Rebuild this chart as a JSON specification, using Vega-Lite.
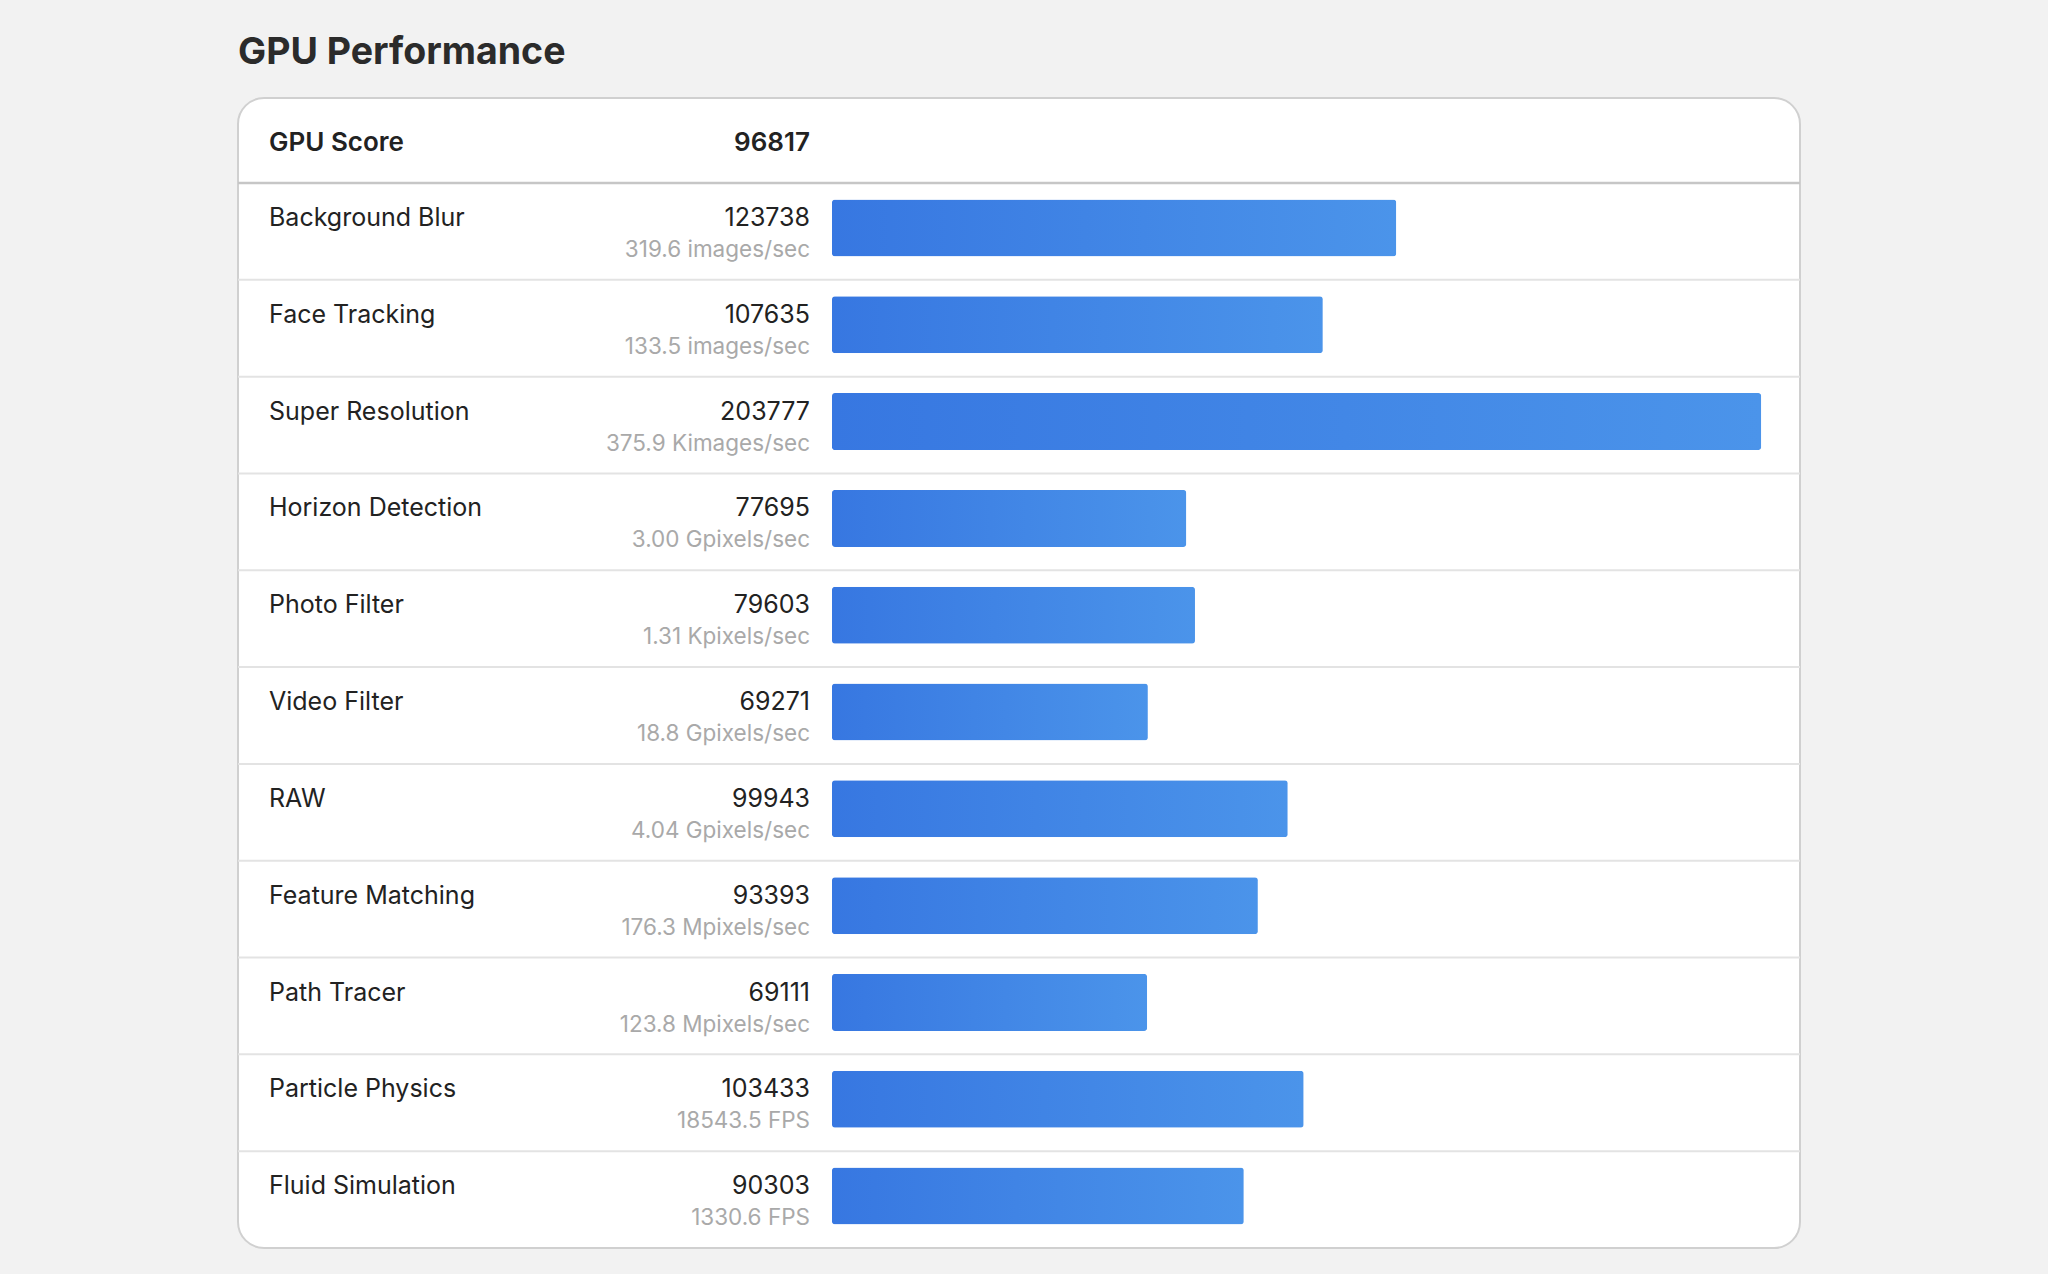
{
  "$schema": "https://vega.github.io/schema/vega-lite/v6.json",
  "width": 1562,
  "height": 1150,
  "autosize": {"type": "none"},
  "padding": {"left": 238, "top": 98, "right": 248, "bottom": 26},
  "background": "#f2f2f2",
  "config": {
    "view": {"fill": "white", "stroke": "#d0d0d0", "strokeWidth": 2, "cornerRadius": 26},
    "text": {"font": "Inter", "baseline": "alphabetic"}
  },
  "title": {
    "text": "GPU Performance",
    "anchor": "start",
    "frame": "group",
    "font": "Inter",
    "fontSize": 37.5,
    "fontWeight": "bold",
    "color": "#2b2b2b",
    "baseline": "alphabetic",
    "offset": 35,
    "dy": 38
  },
  "datasets": {
    "header": [{"name": "GPU Score", "score": 96817}],
    "rows": [
      {"rank": 1, "name": "Background Blur", "score": 123738, "rate": "319.6 images/sec"},
      {"rank": 2, "name": "Face Tracking", "score": 107635, "rate": "133.5 images/sec"},
      {"rank": 3, "name": "Super Resolution", "score": 203777, "rate": "375.9 Kimages/sec"},
      {"rank": 4, "name": "Horizon Detection", "score": 77695, "rate": "3.00 Gpixels/sec"},
      {"rank": 5, "name": "Photo Filter", "score": 79603, "rate": "1.31 Kpixels/sec"},
      {"rank": 6, "name": "Video Filter", "score": 69271, "rate": "18.8 Gpixels/sec"},
      {"rank": 7, "name": "RAW", "score": 99943, "rate": "4.04 Gpixels/sec"},
      {"rank": 8, "name": "Feature Matching", "score": 93393, "rate": "176.3 Mpixels/sec"},
      {"rank": 9, "name": "Path Tracer", "score": 69111, "rate": "123.8 Mpixels/sec"},
      {"rank": 10, "name": "Particle Physics", "score": 103433, "rate": "18543.5 FPS"},
      {"rank": 11, "name": "Fluid Simulation", "score": 90303, "rate": "1330.6 FPS"}
    ]
  },
  "encoding": {
    "y": {
      "field": "name",
      "type": "nominal",
      "bandPosition": 0,
      "scale": {
        "domain": ["GPU Score", "Background Blur", "Face Tracking", "Super Resolution", "Horizon Detection", "Photo Filter", "Video Filter", "RAW", "Feature Matching", "Path Tracer", "Particle Physics", "Fluid Simulation"],
        "range": [-11.8, 1150],
        "paddingInner": 0,
        "paddingOuter": 0
      },
      "axis": null
    }
  },
  "layer": [
    {
      "data": {"name": "header"},
      "mark": {"type": "text", "align": "left", "dx": -563, "dy": 65, "fontSize": 26, "fontWeight": 600, "color": "#222"},
      "encoding": {
        "x": {"datum": 0, "type": "quantitative", "scale": {"domain": [-130263, 212281], "nice": false, "zero": false}, "axis": null},
        "text": {"field": "name"}
      }
    },
    {
      "data": {"name": "header"},
      "mark": {"type": "text", "align": "right", "dx": -22, "dy": 65, "fontSize": 26, "fontWeight": 600, "color": "#222"},
      "encoding": {
        "x": {"datum": 0, "type": "quantitative"},
        "text": {"field": "score"}
      }
    },
    {
      "data": {"name": "rows"},
      "mark": {"type": "rule"},
      "encoding": {
        "color": {"condition": {"test": "datum.rank == 1", "value": "#c6c6c6"}, "value": "#e3e3e3"},
        "strokeWidth": {"condition": {"test": "datum.rank == 1", "value": 2.5}, "value": 2}
      }
    },
    {
      "data": {"name": "rows"},
      "mark": {
        "type": "bar",
        "height": 57,
        "yOffset": -3.5,
        "cornerRadius": 3,
        "color": {
          "gradient": "linear",
          "x1": 0, "y1": 0, "x2": 1, "y2": 0,
          "stops": [
            {"offset": 0, "color": "#3777e1"},
            {"offset": 1, "color": "#4b94ea"}
          ]
        }
      },
      "encoding": {
        "x": {"field": "score", "type": "quantitative"},
        "y": {"field": "name", "type": "nominal"}
      }
    },
    {
      "data": {"name": "rows"},
      "mark": {"type": "text", "align": "left", "dx": -563, "dy": 43, "fontSize": 25, "color": "#222"},
      "encoding": {
        "x": {"datum": 0, "type": "quantitative"},
        "text": {"field": "name"}
      }
    },
    {
      "data": {"name": "rows"},
      "mark": {"type": "text", "align": "right", "dx": -22, "dy": 43, "fontSize": 25, "color": "#222"},
      "encoding": {
        "x": {"datum": 0, "type": "quantitative"},
        "text": {"field": "score"}
      }
    },
    {
      "data": {"name": "rows"},
      "mark": {"type": "text", "align": "right", "dx": -22, "dy": 74, "fontSize": 22.5, "color": "#a9a9a9"},
      "encoding": {
        "x": {"datum": 0, "type": "quantitative"},
        "text": {"field": "rate"}
      }
    }
  ]
}
